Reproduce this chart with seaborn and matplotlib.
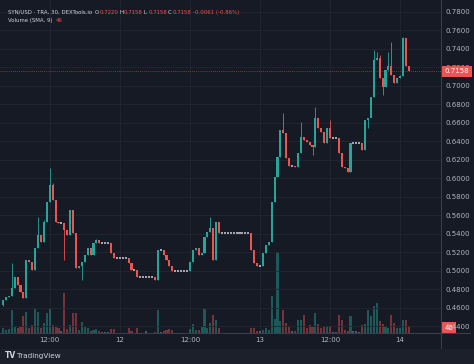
import numpy as np
import pandas as pd
import seaborn as sns
import matplotlib.pyplot as plt
from matplotlib.lines import Line2D
from matplotlib.patches import Rectangle

# Velas de 30 min (SYN/USD)
opens = [
    0.4632, 0.4686, 0.4719, 0.4730, 0.4816, 0.4935, 0.4849, 0.4773, 0.4708, 0.5119,
    0.5097, 0.5011, 0.5249, 0.5389, 0.5314, 0.5530, 0.5746, 0.5930, 0.5768, 0.5530,
    0.5519, 0.5519, 0.5443, 0.5389, 0.5659, 0.5411, 0.5032, 0.5054, 0.5097, 0.5173,
    0.5249, 0.5173, 0.5303, 0.5335, 0.5303, 0.5303, 0.5303, 0.5303, 0.5195, 0.5141,
    0.5141, 0.5141, 0.5141, 0.5141, 0.5086, 0.5011, 0.5011, 0.4935, 0.4935, 0.4935,
    0.4935, 0.4935, 0.4935, 0.4903, 0.5227, 0.5227, 0.5173, 0.5119, 0.5054, 0.5000,
    0.5000, 0.5000, 0.5000, 0.5000, 0.5000, 0.5097, 0.5227, 0.5249, 0.5173, 0.5195,
    0.5368, 0.5422, 0.5465, 0.5119, 0.5530, 0.5411, 0.5411, 0.5411, 0.5411, 0.5411,
    0.5411, 0.5411, 0.5411, 0.5411, 0.5411, 0.5411, 0.5227, 0.5086, 0.5054, 0.5054,
    0.5195, 0.5281, 0.5314, 0.5746, 0.6016, 0.6232, 0.6524, 0.6492, 0.6222, 0.6135,
    0.6135, 0.6124, 0.6276, 0.6449, 0.6416, 0.6395, 0.6362, 0.6341, 0.6654, 0.6546,
    0.6503, 0.6384, 0.6546, 0.6438, 0.6438, 0.6438, 0.6276, 0.6124, 0.6114, 0.6070,
    0.6384, 0.6384, 0.6384, 0.6384, 0.6308, 0.6632, 0.6654, 0.6881, 0.7281, 0.7303,
    0.7086, 0.6989, 0.7173, 0.7216, 0.7119, 0.7032, 0.7086, 0.7108, 0.7519, 0.7220,
]
highs = [
    0.4686, 0.4719, 0.4730, 0.5086, 0.4935, 0.4935, 0.4849, 0.4773, 0.5119, 0.5119,
    0.5097, 0.5249, 0.5584, 0.5389, 0.5551, 0.5746, 0.6114, 0.5951, 0.5768, 0.5530,
    0.5519, 0.5519, 0.5443, 0.5659, 0.5659, 0.5411, 0.5054, 0.5097, 0.5173, 0.5249,
    0.5249, 0.5303, 0.5346, 0.5335, 0.5303, 0.5303, 0.5303, 0.5303, 0.5195, 0.5141,
    0.5141, 0.5141, 0.5141, 0.5141, 0.5086, 0.5011, 0.5011, 0.4935, 0.4935, 0.4935,
    0.4935, 0.4935, 0.4935, 0.5227, 0.5227, 0.5227, 0.5173, 0.5119, 0.5054, 0.5000,
    0.5000, 0.5000, 0.5000, 0.5000, 0.5097, 0.5227, 0.5249, 0.5249, 0.5195, 0.5368,
    0.5422, 0.5584, 0.5465, 0.5530, 0.5530, 0.5411, 0.5411, 0.5411, 0.5411, 0.5411,
    0.5411, 0.5411, 0.5411, 0.5411, 0.5411, 0.5411, 0.5227, 0.5086, 0.5054, 0.5195,
    0.5281, 0.5314, 0.5746, 0.6016, 0.6232, 0.6524, 0.6708, 0.6492, 0.6222, 0.6135,
    0.6135, 0.6276, 0.6611, 0.6449, 0.6416, 0.6395, 0.6362, 0.6773, 0.6654, 0.6546,
    0.6503, 0.6546, 0.6632, 0.6438, 0.6438, 0.6438, 0.6276, 0.6124, 0.6114, 0.6384,
    0.6384, 0.6384, 0.6384, 0.6384, 0.6632, 0.6654, 0.6881, 0.7389, 0.7368, 0.7335,
    0.7086, 0.7173, 0.7368, 0.7476, 0.7119, 0.7086, 0.7119, 0.7530, 0.7519, 0.7220,
]
lows = [
    0.4621, 0.4686, 0.4719, 0.4730, 0.4816, 0.4849, 0.4773, 0.4708, 0.4708, 0.5097,
    0.5011, 0.5011, 0.5249, 0.5314, 0.5314, 0.5530, 0.5746, 0.5768, 0.5530, 0.5519,
    0.5519, 0.5119, 0.5389, 0.5389, 0.5411, 0.5032, 0.5032, 0.4903, 0.5097, 0.5173,
    0.5173, 0.5173, 0.5303, 0.5303, 0.5303, 0.5303, 0.5303, 0.5195, 0.5141, 0.5141,
    0.5141, 0.5141, 0.5141, 0.5086, 0.5011, 0.5011, 0.4935, 0.4935, 0.4935, 0.4935,
    0.4935, 0.4935, 0.4903, 0.4903, 0.5227, 0.5173, 0.5119, 0.5054, 0.5000, 0.5000,
    0.5000, 0.5000, 0.5000, 0.5000, 0.5000, 0.5097, 0.5227, 0.5173, 0.5173, 0.5195,
    0.5368, 0.5422, 0.5119, 0.5119, 0.5411, 0.5411, 0.5411, 0.5411, 0.5411, 0.5411,
    0.5411, 0.5411, 0.5411, 0.5411, 0.5411, 0.5227, 0.5086, 0.5054, 0.5054, 0.5054,
    0.5195, 0.5281, 0.5314, 0.5746, 0.6016, 0.6232, 0.6492, 0.6222, 0.6135, 0.6135,
    0.6124, 0.6124, 0.6276, 0.6416, 0.6395, 0.6362, 0.6254, 0.6341, 0.6546, 0.6503,
    0.6384, 0.6384, 0.6438, 0.6438, 0.6438, 0.6276, 0.6124, 0.6114, 0.6070, 0.6070,
    0.6384, 0.6384, 0.6384, 0.6308, 0.6308, 0.6546, 0.6741, 0.6881, 0.7281, 0.7086,
    0.6903, 0.6989, 0.7173, 0.7119, 0.7032, 0.7032, 0.7086, 0.7108, 0.7220, 0.7158,
]
closes = [
    0.4686, 0.4719, 0.4730, 0.4816, 0.4935, 0.4849, 0.4773, 0.4708, 0.5119, 0.5097,
    0.5011, 0.5249, 0.5389, 0.5314, 0.5530, 0.5746, 0.5930, 0.5768, 0.5530, 0.5519,
    0.5519, 0.5443, 0.5389, 0.5659, 0.5411, 0.5032, 0.5054, 0.5097, 0.5173, 0.5249,
    0.5173, 0.5303, 0.5335, 0.5303, 0.5303, 0.5303, 0.5303, 0.5195, 0.5141, 0.5141,
    0.5141, 0.5141, 0.5141, 0.5086, 0.5011, 0.5011, 0.4935, 0.4935, 0.4935, 0.4935,
    0.4935, 0.4935, 0.4903, 0.5227, 0.5227, 0.5173, 0.5119, 0.5054, 0.5000, 0.5000,
    0.5000, 0.5000, 0.5000, 0.5000, 0.5097, 0.5227, 0.5249, 0.5173, 0.5195, 0.5368,
    0.5422, 0.5465, 0.5119, 0.5530, 0.5411, 0.5411, 0.5411, 0.5411, 0.5411, 0.5411,
    0.5411, 0.5411, 0.5411, 0.5411, 0.5411, 0.5227, 0.5086, 0.5054, 0.5054, 0.5195,
    0.5281, 0.5314, 0.5746, 0.6016, 0.6232, 0.6524, 0.6492, 0.6222, 0.6135, 0.6135,
    0.6124, 0.6276, 0.6449, 0.6416, 0.6395, 0.6362, 0.6341, 0.6654, 0.6546, 0.6503,
    0.6384, 0.6546, 0.6438, 0.6438, 0.6438, 0.6276, 0.6124, 0.6114, 0.6070, 0.6384,
    0.6384, 0.6384, 0.6384, 0.6308, 0.6632, 0.6654, 0.6881, 0.7281, 0.7303, 0.7086,
    0.6989, 0.7173, 0.7216, 0.7119, 0.7032, 0.7086, 0.7108, 0.7519, 0.7220, 0.7158,
]
volumes = [
    30, 20, 25, 150, 40, 30, 40, 110, 140, 30,
    50, 155, 140, 30, 65, 130, 160, 50, 40, 30,
    10, 260, 25, 50, 130, 130, 20, 75, 40, 30,
    15, 20, 25, 15, 5, 5, 5, 25, 25, 3,
    3, 3, 3, 30, 15, 3, 30, 3, 3, 10,
    3, 3, 5, 150, 5, 15, 20, 25, 20, 3,
    3, 3, 3, 3, 25, 60, 20, 20, 40, 160,
    30, 65, 115, 85, 30, 3, 3, 3, 3, 3,
    3, 3, 3, 3, 3, 30, 30, 15, 15, 20,
    30, 20, 240, 90, 530, 80, 150, 65, 40, 15,
    10, 85, 85, 115, 30, 50, 40, 130, 60, 30,
    45, 45, 45, 5, 5, 115, 85, 20, 15, 110,
    10, 10, 5, 55, 60, 150, 110, 180, 195, 80,
    60, 40, 30, 115, 65, 30, 30, 85, 85, 46,
]

price_ticks = [0.44, 0.46, 0.48, 0.50, 0.52, 0.54, 0.56, 0.58, 0.60,
               0.62, 0.64, 0.66, 0.68, 0.70, 0.72, 0.74, 0.76, 0.78]
time_tick_slots = [16, 40, 64, 88, 112, 136]   # vela das 12:00 / 00:00 de cada dia
time_tick_labels = ['12:00', '12', '12:00', '13', '12:00', '14']

last_price = 0.7158
last_volume = 46

BG = '#161a25'
GRID = '#222632'
EDGE = '#3a3e4a'
UP = '#26a69a'
DOWN = '#ef5350'
FLAT = '#a3a6b0'
TXT = '#b2b5be'

W, H = 474, 364
FLAT_H = 0.0012   # espessura mínima do corpo de uma vela sem variação


def montar_dados():   # Junta as listas num DataFrame
    df = pd.DataFrame({'open': opens, 'high': highs, 'low': lows,
                       'close': closes, 'volume': volumes})
    df['slot'] = np.arange(len(df))
    df['sentido'] = np.where(df['close'] > df['open'], 'alta',
                             np.where(df['close'] < df['open'], 'baixa', 'lateral'))
    return df


def desenhar_volume(ax, df):   # Barras de volume no eixo de baixo
    sns.barplot(data=df, x='slot', y='volume', hue='sentido',
                palette={'alta': UP, 'baixa': DOWN, 'lateral': FLAT},
                native_scale=True, dodge=False, width=0.72, saturation=1,
                alpha=0.45, legend=False, ax=ax, linewidth=0)
    ax.set_ylim(0, 2180)
    ax.set_xlabel('')
    ax.set_ylabel('')
    ax.set_yticks([])


def desenhar_velas(ax, df):   # Velas (pavio + corpo)
    cores = df['sentido'].map({'alta': UP, 'baixa': DOWN, 'lateral': FLAT})
    ax.vlines(df['slot'], df['low'], df['high'], colors=cores, linewidth=0.6, zorder=3)
    corpo = (df['close'] - df['open']).abs()
    plano = corpo < FLAT_H
    base = np.minimum(df['open'], df['close']) - np.where(plano, (FLAT_H - corpo) / 2, 0)
    altura = np.where(plano, FLAT_H, corpo)
    ax.bar(df['slot'], altura, bottom=base, width=0.72,
           color=cores, linewidth=0, zorder=4)


def main():
    sns.set_theme(style='darkgrid', rc={
        'axes.facecolor': BG, 'figure.facecolor': BG, 'grid.color': GRID,
        'grid.linewidth': 0.6, 'axes.edgecolor': EDGE, 'text.color': TXT,
        'xtick.color': TXT, 'ytick.color': TXT,
    })
    plt.rcParams['font.family'] = ['DejaVu Sans']

    df = montar_dados()

    fig = plt.figure(figsize=(W / 100, H / 100), dpi=100)
    fig.patch.set_facecolor(BG)
    fig.patches.append(Rectangle((0, 0), 1, 15 / H, transform=fig.transFigure,
                                 facecolor='#1c202b', edgecolor='none', zorder=0))

    ax_vol = fig.add_axes([0, 31 / H, 441 / W, 333 / H])
    desenhar_volume(ax_vol, df)

    ax = ax_vol.twinx()
    desenhar_velas(ax, df)
    ax.axhline(last_price, color=DOWN, linestyle=(0, (1, 1.5)), linewidth=0.6, alpha=0.7, zorder=2)

    ax_vol.set_xlim(-1.03, 150.0)
    ax.set_ylim(0.43297, 0.79297)

    ax_vol.set_xticks(time_tick_slots)
    ax_vol.set_xticklabels(time_tick_labels, fontsize=5, color=TXT)
    ax_vol.tick_params(axis='x', length=0, pad=3)
    ax_vol.grid(True, axis='x', color=GRID, linewidth=0.6)
    ax_vol.grid(False, axis='y')

    ax.set_yticks(price_ticks)
    ax.set_yticklabels([f'{p:.4f}' for p in price_ticks], fontsize=5, color=TXT)
    ax.tick_params(axis='y', length=0, pad=3)
    ax.grid(True, axis='y', color=GRID, linewidth=0.6, zorder=0)
    ax.grid(False, axis='x')
    ax.set_axisbelow(True)

    for nome, sp in ax_vol.spines.items():
        sp.set_visible(nome in ('bottom', 'right'))
        sp.set_color(EDGE)
        sp.set_linewidth(0.8)
    for sp in ax.spines.values():
        sp.set_visible(False)

    # Linhas das escalas que passam da área do gráfico
    fig.add_artist(Line2D([441 / W, 441 / W], [16 / H, 31 / H], color=EDGE, linewidth=0.8))
    fig.add_artist(Line2D([441 / W, 470 / W], [31 / H, 31 / H], color=EDGE, linewidth=0.8))

    # Etiquetas do último preço e do último volume (tapam os rótulos de 0.72 e 0.44, como no original)
    ax.annotate(f'{last_price:.4f}', xy=(1, last_price), xycoords=('axes fraction', 'data'),
                xytext=(2.4, 0), textcoords='offset points', ha='left', va='center',
                fontsize=5, color='white', annotation_clip=False, zorder=10,
                bbox=dict(boxstyle='square,pad=0.4', facecolor=DOWN, edgecolor='none'))
    ax_vol.annotate(f'{last_volume}', xy=(1, last_volume), xycoords=('axes fraction', 'data'),
                    xytext=(2.4, -1.5), textcoords='offset points', ha='left', va='center',
                    fontsize=5, color='white', annotation_clip=False, zorder=10,
                    bbox=dict(boxstyle='square,pad=0.4', facecolor=DOWN, edgecolor='none'))

    # Cabeçalho
    def px(x, y, s, cor, tam=3.9, **kw):
        fig.text(x / W, 1 - y / H, s, color=cor, fontsize=tam, va='center', ha='left', **kw)

    px(8, 12.5, 'SYN/USD · TRA, 30, DEXTools.io', '#d1d4dc')
    for x, letra, valor in [(95, 'O', '0.7220'), (119, 'H', '0.7158'),
                            (144, 'L', '0.7158'), (168, 'C', '0.7158')]:
        px(x, 12.5, letra, '#d1d4dc')
        px(x + 4.3, 12.5, valor, DOWN)
    px(193, 12.5, '-0.0061 (-0.86%)', DOWN)
    px(8, 20.5, 'Volume (SMA, 9)', '#d1d4dc')
    px(56, 20.5, f'{last_volume}', DOWN)

    # Rodapé
    px(5, 356, 'TV', '#d1d4dc', tam=5.5, fontweight='bold')
    px(17, 356, 'TradingView', '#d1d4dc', tam=5.2)

    fig.savefig('out.png', dpi=100, facecolor=BG)


if __name__ == '__main__':
    main()
